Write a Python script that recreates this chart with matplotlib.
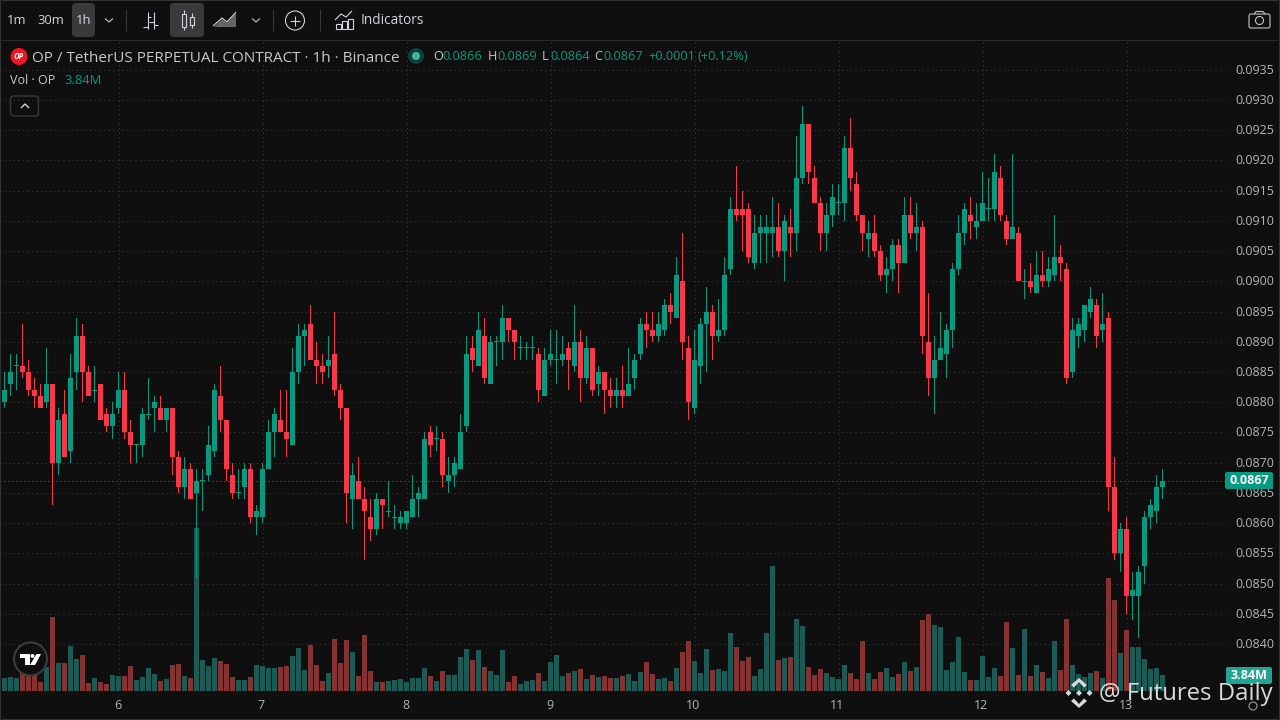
import numpy as np
import matplotlib
matplotlib.use('Agg')
import matplotlib.pyplot as plt
from matplotlib.patches import Circle, FancyBboxPatch, Polygon, Rectangle
from matplotlib.transforms import ScaledTranslation

# prices in units of 0.0001 (the tick size), one candle per hour
opens = [880, 883, 886, 886, 885, 882, 881, 880, 883, 870,
         878, 872, 885, 891, 885, 882, 883, 878, 876, 879,
         882, 875, 873, 873, 878, 879, 879, 877, 879, 871,
         866, 869, 865, 867, 868, 872, 881, 877, 868, 865,
         866, 869, 861, 861, 869, 875, 877, 875, 873, 885,
         891, 893, 887, 886, 886, 888, 882, 879, 864, 867,
         864, 861, 859, 864, 862, 861, 860, 860, 861, 864,
         864, 875, 874, 874, 867, 868, 869, 876, 889, 886,
         891, 883, 890, 890, 894, 892, 889, 889, 889, 888,
         881, 887, 887, 887, 889, 886, 890, 884, 889, 883,
         885, 882, 881, 882, 881, 884, 888, 893, 892, 891,
         892, 896, 894, 900, 889, 879, 886, 893, 895, 891,
         892, 902, 912, 912, 912, 903, 908, 908, 908, 909,
         905, 909, 908, 917, 926, 917, 913, 908, 911, 913,
         913, 922, 916, 911, 907, 908, 905, 901, 902, 906,
         903, 911, 908, 909, 890, 884, 887, 888, 892, 902,
         908, 911, 909, 910, 912, 912, 917, 910, 907, 908,
         900, 900, 898, 901, 900, 901, 904, 902, 885, 891,
         892, 895, 896, 892, 894, 866, 855, 859, 848, 848,
         853, 861, 862, 866]
closes = [882, 885, 886, 885, 882, 881, 879, 883, 870, 877,
          871, 884, 891, 885, 881, 882, 877, 876, 878, 882,
          875, 873, 873, 878, 878, 880, 877, 879, 871, 866,
          869, 864, 867, 867, 873, 882, 877, 869, 865, 865,
          869, 861, 862, 869, 875, 878, 875, 874, 885, 891,
          892, 887, 886, 885, 887, 882, 879, 865, 868, 864,
          862, 859, 864, 863, 862, 861, 861, 862, 864, 865,
          874, 873, 874, 868, 868, 870, 875, 888, 887, 892,
          884, 890, 890, 894, 892, 890, 889, 889, 889, 882,
          887, 888, 887, 888, 887, 890, 884, 889, 882, 885,
          882, 881, 882, 881, 883, 887, 893, 892, 891, 893,
          896, 895, 901, 890, 880, 887, 893, 895, 891, 892,
          901, 912, 911, 911, 904, 908, 909, 909, 909, 905,
          910, 908, 917, 926, 918, 913, 908, 911, 914, 913,
          922, 917, 911, 908, 908, 905, 901, 902, 906, 903,
          911, 908, 909, 891, 884, 887, 889, 892, 902, 908,
          912, 910, 910, 913, 912, 918, 911, 907, 909, 900,
          900, 899, 901, 900, 902, 904, 903, 884, 892, 893,
          896, 897, 891, 893, 866, 855, 859, 848, 849, 852,
          861, 863, 866, 867]
highs = [885, 888, 888, 893, 887, 884, 883, 889, 883, 879,
         882, 888, 894, 893, 886, 886, 883, 879, 880, 885,
         885, 877, 873, 879, 884, 881, 881, 879, 879, 872,
         871, 870, 869, 869, 876, 883, 886, 877, 870, 869,
         870, 870, 863, 870, 877, 879, 882, 882, 889, 893,
         893, 896, 890, 888, 891, 895, 883, 879, 870, 871,
         866, 864, 865, 864, 867, 863, 862, 862, 868, 866,
         875, 876, 876, 875, 871, 871, 878, 891, 891, 895,
         894, 891, 891, 896, 894, 892, 891, 890, 891, 889,
         889, 892, 892, 891, 890, 896, 892, 891, 889, 886,
         885, 884, 884, 886, 889, 888, 894, 895, 895, 895,
         897, 898, 904, 908, 891, 892, 894, 899, 896, 897,
         904, 914, 919, 915, 913, 911, 911, 911, 914, 913,
         911, 912, 924, 929, 926, 919, 914, 913, 916, 916,
         924, 927, 918, 911, 910, 911, 906, 904, 907, 907,
         914, 914, 913, 910, 898, 891, 895, 893, 903, 911,
         913, 914, 913, 918, 917, 921, 919, 911, 921, 909,
         902, 903, 905, 905, 904, 911, 906, 903, 894, 894,
         896, 899, 897, 898, 895, 871, 860, 861, 852, 853,
         862, 864, 868, 869]
lows = [879, 881, 882, 884, 881, 879, 879, 879, 863, 868,
        871, 870, 882, 880, 881, 880, 877, 875, 874, 878,
        874, 870, 870, 871, 877, 875, 877, 875, 868, 865,
        864, 864, 851, 862, 867, 871, 875, 867, 864, 864,
        864, 860, 858, 860, 869, 871, 875, 871, 873, 883,
        886, 887, 883, 883, 884, 881, 877, 860, 859, 864,
        854, 857, 858, 859, 861, 859, 859, 859, 861, 861,
        864, 871, 872, 866, 865, 866, 869, 875, 885, 886,
        883, 883, 886, 887, 890, 887, 887, 887, 887, 880,
        881, 886, 883, 886, 882, 885, 880, 883, 881, 881,
        878, 879, 879, 879, 881, 882, 887, 889, 890, 890,
        891, 893, 894, 887, 877, 878, 883, 885, 887, 890,
        891, 901, 910, 905, 903, 902, 903, 903, 904, 904,
        900, 904, 905, 916, 916, 913, 905, 905, 909, 911,
        910, 915, 910, 905, 904, 904, 900, 898, 900, 898,
        903, 907, 905, 888, 881, 878, 887, 884, 889, 901,
        906, 907, 907, 910, 910, 910, 910, 906, 907, 900,
        897, 898, 898, 899, 899, 900, 900, 883, 884, 889,
        890, 894, 889, 890, 862, 854, 852, 845, 844, 841,
        850, 859, 860, 864]
# volume in millions
volumes = [3.12, 3.36, 3.12, 4.32, 3.84, 3.84, 2.16, 5.76, 17.76, 6.72,
           6.72, 10.80, 7.68, 8.64, 1.92, 3.12, 2.16, 1.68, 3.84, 3.60,
           3.60, 6.00, 2.64, 3.36, 5.52, 4.08, 2.40, 2.88, 6.24, 6.48,
           3.60, 3.12, 39.12, 7.44, 6.00, 7.92, 7.20, 6.48, 3.36, 2.64,
           2.64, 3.36, 6.24, 6.00, 5.52, 5.52, 5.76, 6.00, 8.40, 10.32,
           5.04, 11.04, 6.24, 2.40, 4.32, 12.48, 6.72, 12.24, 9.36, 3.60,
           13.44, 4.80, 2.16, 2.16, 2.40, 2.64, 2.88, 2.16, 3.12, 3.12,
           5.52, 3.60, 2.40, 4.80, 3.84, 3.84, 8.16, 10.08, 7.44, 9.84,
           5.76, 4.80, 3.84, 9.84, 2.16, 3.60, 1.68, 2.40, 2.64, 4.32,
           2.40, 6.96, 8.64, 3.60, 4.32, 4.80, 5.28, 2.88, 3.84, 3.36,
           3.60, 3.12, 3.12, 3.60, 4.08, 2.40, 4.56, 6.96, 4.08, 2.88,
           3.12, 2.40, 5.52, 9.36, 12.00, 7.20, 4.32, 10.08, 5.04, 5.28,
           4.80, 13.92, 10.56, 7.20, 8.16, 3.60, 5.28, 13.92, 30.00, 7.44,
           7.92, 8.16, 17.28, 15.60, 5.76, 3.84, 5.28, 4.32, 3.36, 2.88,
           6.24, 4.32, 2.88, 12.00, 4.32, 2.88, 4.56, 5.52, 3.36, 4.08,
           6.96, 4.80, 5.76, 17.04, 18.48, 15.84, 15.36, 5.04, 6.96, 12.96,
           4.56, 2.64, 2.64, 8.40, 3.36, 5.52, 3.60, 16.56, 10.32, 3.84,
           14.88, 3.60, 6.24, 4.56, 3.12, 12.00, 5.04, 17.28, 6.24, 4.08,
           3.36, 4.32, 4.80, 3.12, 27.12, 21.84, 9.12, 14.64, 10.56, 10.56,
           7.68, 5.28, 5.52, 3.84]
day_ticks = [19, 43, 67, 91, 115, 139, 163, 187]
day_labels = ['6', '7', '8', '9', '10', '11', '12', '13']
price_ticks = [840, 845, 850, 855, 860, 865, 870, 875, 880, 885,
               890, 895, 900, 905, 910, 915, 920, 925, 930, 935]

BG = '#0f0f0f'
UP = '#089981'
DOWN = '#f7374a'
UP_VOL = '#1a5c55'
DOWN_VOL = '#863232'
GRID = '#3c3c3c'
LABEL = '#b4b4b4'
THIN = 0.72  # one pixel at dpi 100
plt.rcParams['font.family'] = ['Open Sans', 'DejaVu Sans']

W, H = 1280, 720
fig = plt.figure(figsize=(12.8, 7.2), dpi=100, facecolor=BG)

# price pane: x 0-1225 px, y 40-691 px
pane = [0, (H - 691) / H, 1225 / W, 651 / H]
ax_vol = fig.add_axes(pane, facecolor=BG)
ax = ax_vol.twinx()
ax_vol.set_zorder(1)
ax.set_zorder(2)
ax.patch.set_visible(False)

x = np.arange(len(opens))
o = np.array(opens) * 1e-4
c = np.array(closes) * 1e-4
hi = np.array(highs) * 1e-4
lo = np.array(lows) * 1e-4
is_up = c >= o
colors = [UP if u else DOWN for u in is_up]

ax_vol.set_xlim(-4.5 / 6, (1225 - 4.5) / 6)
ax_vol.set_ylim(0, 651 * 0.24)
ax.set_ylim(0.083227, 0.093988)

# volume
ax_vol.bar(x, volumes, width=5 / 6, color=[UP_VOL if u else DOWN_VOL for u in is_up],
           linewidth=0, antialiased=False, zorder=2)
ax_vol.set_yticks([])
ax_vol.set_xticks(day_ticks)
ax_vol.set_xticklabels(day_labels)
ax_vol.tick_params(axis='x', length=0, pad=6, labelsize=9, labelcolor=LABEL)
ax_vol.grid(axis='x', color=GRID, linestyle=(0, (1, 3.5)), linewidth=THIN, zorder=1)
ax_vol.set_axisbelow(True)

# candles: thin bars for the wicks stay a solid pixel wide, lines went grey
ax.bar(x, hi - lo, bottom=lo, width=1 / 6, color=colors, linewidth=0,
       antialiased=False, zorder=3)
ax.bar(x, np.abs(c - o), bottom=np.minimum(o, c), width=5 / 6, color=colors, linewidth=0,
       antialiased=False, zorder=4)
doji = np.flatnonzero(c == o)
px_price = 1e-4 / 6.05
ax.bar(x[doji], px_price, bottom=c[doji] - px_price / 2, width=5 / 6, color=UP, linewidth=0,
       antialiased=False, zorder=4)

ax.set_yticks(np.array(price_ticks) * 1e-4)
ax.set_yticklabels(['%.4f' % (p * 1e-4) for p in price_ticks])
ax.tick_params(axis='y', length=0, pad=7.5, labelsize=9, labelcolor=LABEL)
ax.grid(axis='y', color=GRID, linestyle=(0, (1, 3.5)), linewidth=THIN, zorder=1)
ax.axhline(c[-1], color=UP, linestyle=(0, (1, 3)), linewidth=THIN, zorder=2)
for a in (ax, ax_vol):
    for s in a.spines.values():
        s.set_visible(False)
# nudge the tick labels one pixel
up_px = ScaledTranslation(0, 0.01, fig.dpi_scale_trans)
left_px = ScaledTranslation(-0.01, 0, fig.dpi_scale_trans)
for lab in ax.get_yticklabels():
    lab.set_transform(lab.get_transform() + up_px)
for lab in ax_vol.get_xticklabels():
    lab.set_transform(lab.get_transform() + left_px)

# everything that is chart furniture, in pixel coordinates
ui = fig.add_axes([0, 0, 1, 1], facecolor='none', zorder=5)
ui.set_xlim(0, W)
ui.set_ylim(H, 0)
ui.axis('off')


def box(x0, y0, x1, y1, fc='none', ec='none', r=3, lw=1):
    ui.add_patch(FancyBboxPatch((x0 + r, y0 + r), x1 - x0 - 2 * r, y1 - y0 - 2 * r,
                                boxstyle='round,pad=%g,rounding_size=%g' % (r, r),
                                fc=fc, ec=ec, lw=lw))


def line(xs, ys, color='#d1d4dc', lw=0.8):
    ui.plot(xs, ys, color=color, lw=lw, solid_capstyle='butt')


def label(px, py, s, color=LABEL, size=9, **kw):
    kw.setdefault('va', 'center')
    ui.text(px, py, s, color=color, fontsize=size, **kw)


# frame and toolbar
line([0, W], [39.5, 39.5], '#2a2a2a', THIN)
ui.add_patch(Rectangle((0, 0), W, H, fc='none', ec='#333333', lw=1.5))
box(72, 3, 95, 37, fc='#3a3a3a', r=4)
box(170, 3, 204, 37, fc='#3a3a3a', r=4)
label(17, 20, '1m', '#d1d4dc', 9.4, ha='center')
label(51, 20, '30m', '#d1d4dc', 9.4, ha='center')
label(84, 20, '1h', '#d1d4dc', 9.4, ha='center')
label(361, 20.5, 'Indicators', '#d1d4dc', 9.8)
for sx in (125.5, 272.5, 319.5):
    line([sx, sx], [9, 31], '#3a3a3a', THIN)
for cx in (109, 256):
    line([cx - 4, cx, cx + 4], [18.5, 22, 18.5], '#c4c4c4')
# bars icon
line([147.5, 147.5], [12, 29])
line([143, 147.5], [26.5, 26.5])
line([147.5, 151], [17, 17])
line([153.5, 153.5], [12, 29])
line([149, 153.5], [21.5, 21.5])
line([153.5, 157.5], [24.5, 24.5])
# candles icon
ui.add_patch(Rectangle((182, 13.5), 4, 13, fc='none', ec='#d1d4dc', lw=0.8))
line([184, 184], [10, 13.5])
line([184, 184], [26.5, 30])
ui.add_patch(Rectangle((189.5, 16.5), 4, 8, fc='none', ec='#d1d4dc', lw=0.8))
line([191.5, 191.5], [13, 16.5])
line([191.5, 191.5], [24.5, 28])
# area icon
ui.add_patch(Polygon([(214, 27), (222, 19), (227, 23), (236, 13), (236, 27)],
                     fc='#8a8a8a', ec='none', alpha=0.7))
line([213, 222, 227, 236], [26, 18, 22, 12])
# plus in circle
ui.add_patch(Circle((295, 20.5), 9.5, fc='none', ec='#d1d4dc', lw=0.8))
line([290, 300], [20.5, 20.5])
line([295, 295], [15.5, 25.5])
# indicators icon
for bx, by in ((335.5, 24), (341.5, 21), (347.5, 19)):
    ui.add_patch(Rectangle((bx, by), 5, 28.5 - by, fc='none', ec='#d1d4dc', lw=0.8))
line([335, 341, 346, 352], [20, 14, 17, 11])
# camera
box(1249, 14, 1270, 28, ec='#c4c4c4', r=2, lw=0.8)
line([1254, 1256, 1263, 1265], [14, 11.5, 11.5, 14], '#c4c4c4')
ui.add_patch(Circle((1259.5, 20.5), 4, fc='none', ec='#c4c4c4', lw=0.8))

# legend
ui.add_patch(Circle((19, 56.5), 8.5, fc='#f0141e', ec='none'))
label(19, 56.5, 'OP', 'white', 5.6, ha='center', fontweight='bold', fontstyle='italic')
label(32, 58, 'OP / TetherUS PERPETUAL CONTRACT · 1h · Binance', '#c8c8c8', 11)
ui.add_patch(Circle((416, 56), 8, fc='#0f3f3a', ec='none'))
ui.add_patch(Circle((416, 56), 4, fc='#3fb5a5', ec='none'))
for lx, s in ((433, 'O'), (488, 'H'), (542, 'L'), (594, 'C')):
    label(lx, 57, s, '#c8c8c8', 9.2)
for lx, s in ((442, '0.0866'), (497, '0.0869'), (550, '0.0864'), (603, '0.0867'),
              (648, '+0.0001'), (698, '(+0.12%)')):
    label(lx, 57, s, UP, 9.2)
label(10, 81, 'Vol · OP', '#c8c8c8', 9)
label(64, 81, '3.84M', UP, 9.4)
box(10.5, 96, 38.5, 116, ec='#3a3a3a', r=3)
line([21, 25, 29], [108, 104, 108], '#d1d4dc', 1)

# last price and volume tags
box(1225, 472, 1273, 489, fc=UP, r=2)
label(1249, 480.5, '%.4f' % c[-1], 'white', 9, ha='center', fontweight='bold')
box(1226, 667, 1272, 684, fc='#22a394', r=2)
label(1249, 675.5, '%.2fM' % volumes[-1], 'white', 9, ha='center', fontweight='bold')

# TradingView badge
ui.add_patch(Circle((30.5, 659), 16.5, fc='#0f0f0f', ec='#3c3c3c', lw=1.5))
ui.add_patch(Polygon([(20, 654), (29.5, 654), (29.5, 665), (25, 665), (25, 658), (20, 658)], fc='white'))
ui.add_patch(Circle((32.5, 656), 2, fc='white'))
ui.add_patch(Polygon([(36.5, 654), (41, 654), (35, 665), (30, 665)], fc='white'))

# watermark
wm = '#d9d9d9'
for cx, cy, s in ((1079, 682, 4.5), (1079, 704, 4.5), (1068.5, 693, 3), (1089.5, 693, 3), (1079, 693, 3)):
    if s == 4.5:
        dy = 3 if cy < 693 else -3
        ui.add_patch(Polygon([(cx - 8, cy + dy), (cx, cy - dy - (dy / 3)), (cx + 8, cy + dy),
                              (cx + 5, cy + dy + (dy / 1.2)), (cx, cy), (cx - 5, cy + dy + (dy / 1.2))],
                             fc=wm, ec='none'))
    else:
        ui.add_patch(Polygon([(cx - s, cy), (cx, cy - s), (cx + s, cy), (cx, cy + s)], fc=wm, ec='none'))
label(1099, 694, '@ Futures Daily', wm, 17.2)
ui.add_patch(Circle((1253, 706), 4, fc='none', ec='#9a9a9a', lw=0.8))

fig.savefig('out.png', dpi=100, facecolor=BG)
